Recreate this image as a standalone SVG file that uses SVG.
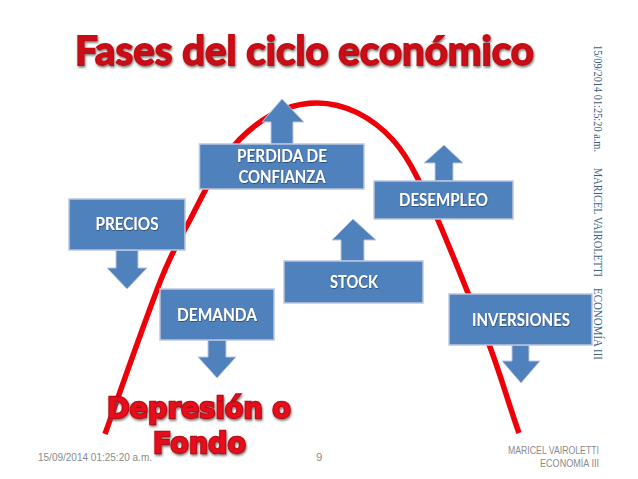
<svg xmlns="http://www.w3.org/2000/svg" width="638" height="479" viewBox="0 0 638 479">
<defs>
<filter id="sh" x="-10%" y="-20%" width="120%" height="150%"><feDropShadow dx="0.8" dy="1.6" stdDeviation="1" flood-color="#555" flood-opacity="0.8"/></filter>
<filter id="ts" x="-10%" y="-20%" width="120%" height="150%"><feDropShadow dx="0.5" dy="0.8" stdDeviation="0.5" flood-color="#1d3557" flood-opacity="0.8"/></filter>
</defs>
<style>
.box{fill:#4f81bd;stroke:#bcc6de;stroke-width:1.5}
.arr{fill:#4f81bd;stroke:#bcc6de;stroke-width:1}
.lbl{font-family:Lato,"Liberation Sans",sans-serif;font-weight:700;font-size:16.5px;fill:#fff;text-anchor:middle;filter:url(#ts)}
.title{font-family:Lato,"Open Sans",sans-serif;font-weight:700;font-size:40px;fill:#cc0f17;stroke:#c20d15;stroke-width:1.8;filter:url(#sh)}
.big{font-family:"DejaVu Sans",sans-serif;font-weight:700;font-size:28px;fill:#e8101a;stroke:#b80c14;stroke-width:2.4;paint-order:stroke;filter:url(#sh)}
.foot{font-family:"Liberation Sans",sans-serif;font-size:11.5px;fill:#8b8b8b}
.side{font-family:"Liberation Serif",serif;font-size:13px;fill:#3f5f80}
</style>
<rect width="638" height="479" fill="#fff"/>
<g id="connectors">
<path d="M105,434 C125,378 143,326 160,282 C170,256 180,238 190,220 C205,190 220,160 240,139 C262,117 288,103 317,103 C345,103 372,117 393,140 C402,150 410,163 417,177 C424,191 431,205 438,220 C449,246 458,268 468,293 C475,312 483,329 490,347 C501,376 510,408 519,433" fill="none" stroke="#ee0008" stroke-width="5.500"/>
</g>
<g id="title"><text class="title" x="75" y="65" textLength="459" lengthAdjust="spacingAndGlyphs">Fases del ciclo económico</text></g>
<g id="precios">
<path class="arr" d="M116,250H138V268H147L127,289L107,268H116Z"/>
<rect class="box" x="69" y="199" width="116" height="51"/>
<text class="lbl" x="127" y="230" textLength="63" lengthAdjust="spacingAndGlyphs">PRECIOS</text>
</g>
<g id="perdida">
<path class="arr" d="M271,144V122H262L282,99L304,122H293V144Z"/>
<rect class="box" x="199.500" y="144" width="164.500" height="45"/>
<text class="lbl" x="282" y="162" textLength="90" lengthAdjust="spacingAndGlyphs">PERDIDA DE</text>
<text class="lbl" x="282" y="183" textLength="87" lengthAdjust="spacingAndGlyphs">CONFIANZA</text>
</g>
<g id="desempleo">
<path class="arr" d="M435,181V163H424L444,145L463,163H453V181Z"/>
<rect class="box" x="374" y="181" width="139" height="38"/>
<text class="lbl" x="443.500" y="206" textLength="89" lengthAdjust="spacingAndGlyphs">DESEMPLEO</text>
</g>
<g id="stock">
<path class="arr" d="M341,261V240H332L353,219L376,240H364V261Z"/>
<rect class="box" x="284" y="261" width="139" height="42"/>
<text class="lbl" x="354" y="288" textLength="48" lengthAdjust="spacingAndGlyphs">STOCK</text>
</g>
<g id="demanda">
<path class="arr" d="M208,340H226V357H236L217,378L198,357H208Z"/>
<rect class="box" x="160" y="289" width="114" height="51"/>
<text class="lbl" x="217" y="321" textLength="80" lengthAdjust="spacingAndGlyphs">DEMANDA</text>
</g>
<g id="inversiones">
<path class="arr" d="M512,345H529V361H540L521,383L502,361H512Z"/>
<rect class="box" x="449" y="294" width="143" height="51"/>
<text class="lbl" x="521" y="326" textLength="98" lengthAdjust="spacingAndGlyphs">INVERSIONES</text>
</g>
<g id="depresion">
<text class="big" x="107" y="418" textLength="184" lengthAdjust="spacingAndGlyphs">Depresión o</text>
<text class="big" x="153" y="453" textLength="93" lengthAdjust="spacingAndGlyphs">Fondo</text>
</g>
<g id="footer">
<text class="foot" x="38" y="461" textLength="114" lengthAdjust="spacingAndGlyphs">15/09/2014 01:25:20 a.m.</text>
<text class="foot" x="316" y="461">9</text>
<text class="foot" x="508" y="454" textLength="91" lengthAdjust="spacingAndGlyphs">MARICEL VAIROLETTI</text>
<text class="foot" x="540" y="467" textLength="59" lengthAdjust="spacingAndGlyphs">ECONOMÍA III</text>
</g>
<g id="side">
<text class="side" transform="translate(594,45) rotate(90)" textLength="107" lengthAdjust="spacingAndGlyphs">15/09/2014 01:25:20 a.m.</text>
<text class="side" transform="translate(594,168) rotate(90)" textLength="109" lengthAdjust="spacingAndGlyphs">MARICEL VAIROLETTI</text>
<text class="side" transform="translate(594,288) rotate(90)" textLength="72" lengthAdjust="spacingAndGlyphs">ECONOMÍA III</text>
</g>
</svg>
